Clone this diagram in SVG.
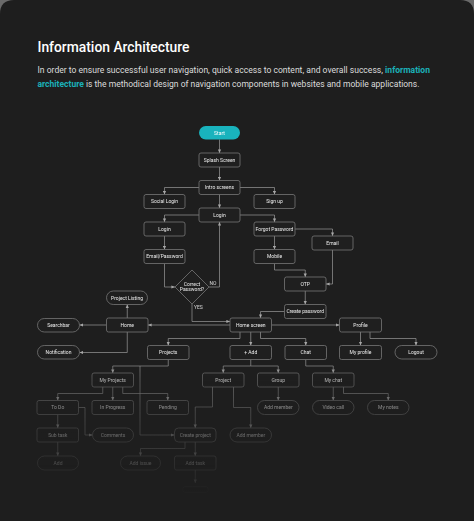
<svg xmlns="http://www.w3.org/2000/svg" width="474" height="521" viewBox="0 0 474 521">
<style>
.bx{fill:#1f1f1f;stroke:#767676;stroke-width:0.8}
.t{font-family:Roboto,"Liberation Sans",sans-serif;font-size:5px;fill:#ededed;text-anchor:middle}
.lb{font-family:Roboto,"Liberation Sans",sans-serif;font-size:5px;fill:#d8d8d8}
.c path{fill:none;stroke:#9a9a9a;stroke-width:0.7;marker-end:url(#ah)}
.c path.n{marker-end:none}
</style>
<defs>
<marker id="ah" markerUnits="userSpaceOnUse" markerWidth="4" markerHeight="4" refX="3.6" refY="2" orient="auto">
<path d="M0,0.4 L3.6,2 L0,3.6 z" fill="#a8a8a8"/>
</marker>
<linearGradient id="fade" gradientUnits="userSpaceOnUse" x1="0" y1="360" x2="0" y2="500">
<stop offset="0" stop-color="#fff"/>
<stop offset="0.143" stop-color="#b3b3b3"/>
<stop offset="0.336" stop-color="#808080"/>
<stop offset="0.536" stop-color="#5a5a5a"/>
<stop offset="0.736" stop-color="#383838"/>
<stop offset="0.929" stop-color="#1a1a1a"/>
<stop offset="1" stop-color="#111"/>
</linearGradient>
<mask id="m" maskUnits="userSpaceOnUse" x="0" y="0" width="474" height="521">
<rect x="0" y="0" width="474" height="521" fill="url(#fade)"/>
</mask>
</defs>
<rect x="0" y="0" width="474" height="521" fill="#6a6a6a"/>
<path d="M0,14 Q0,0 14,0 H460 Q474,0 474,14 V521 H0 Z" fill="#1e1e1e"/>
<text x="37.5" y="51.5" font-family="Roboto,'Liberation Sans',sans-serif" font-size="15.5" font-weight="500" fill="#ffffff" textLength="152" lengthAdjust="spacingAndGlyphs">Information Architecture</text>
<text x="37.5" y="73" font-family="Roboto,'Liberation Sans',sans-serif" font-size="8.4" fill="#dcdcdc" textLength="392.5" lengthAdjust="spacingAndGlyphs">In order to ensure successful user navigation, quick access to content, and overall success, <tspan fill="#1bb1b9" font-weight="700">information</tspan></text>
<text x="37.5" y="86.5" font-family="Roboto,'Liberation Sans',sans-serif" font-size="8.4" fill="#dcdcdc" textLength="382" lengthAdjust="spacingAndGlyphs"><tspan fill="#1bb1b9" font-weight="700">architecture</tspan> is the methodical design of navigation components in websites and mobile applications.</text>
<g mask="url(#m)">
<g id="connectors" class="c">
<path d="M219.5,139.5 V153"/>
<path d="M219.5,167 V180.5"/>
<path d="M199,187.5 H164.5 V194.5"/>
<path d="M240,187.5 H274.5 V194.5"/>
<path d="M219.5,194.5 V208"/>
<path d="M199,215 H164.5 V222"/>
<path d="M240,215 H274.5 V222"/>
<path d="M164.5,236 V249.5"/>
<path d="M164.5,263.5 V287 H175"/>
<path d="M209,287 H219.5 V222"/>
<path d="M295,229 H332.5 V236"/>
<path d="M274.5,236 V249.5"/>
<path d="M274.5,263.5 V270 H305.25 V277"/>
<path d="M332.5,250 V284 H326"/>
<path d="M305.25,291 V304.5"/>
<path d="M284.5,311.5 H260.5 V318"/>
<path d="M192,304 V321.5 H230"/>
<path d="M230,325 H148"/>
<path d="M127.25,318 V304.5"/>
<path d="M106.5,325 H79.5"/>
<path d="M127.25,332 V352.5 H79.5"/>
<path d="M240,332 V338.5 H168.25 V345.5"/>
<path d="M250.75,332 V345.5"/>
<path d="M260.5,332 V338.5 H305.75 V345.5"/>
<path d="M271.5,325 H339.5"/>
<path d="M360.5,332 V345.5"/>
<path d="M370,332 V338.5 H416 V345.5"/>
<path d="M168.25,359.5 V366 H112.75 V373"/>
<path d="M140,366 V435 H174.5"/>
<path d="M250.75,359.5 V366 H223.25 V373"/>
<path d="M250.75,366 H278.25 V373"/>
<path d="M305.75,359.5 V366 H333.25 V373"/>
<path d="M102.75,387 V393.5 H57.75 V400.5"/>
<path d="M112.75,387 V400.5"/>
<path d="M122.75,387 V393.5 H167.75 V400.5"/>
<path d="M212.5,387 V407 H195.25 V428"/>
<path d="M233.5,387 V407.5 H250.75 V428"/>
<path d="M278.25,387 V400.5"/>
<path d="M333.25,387 V400.5"/>
<path d="M343.5,387 V393.5 H388.25 V400.5"/>
<path d="M57.75,414.5 V428"/>
<path d="M78.5,407.5 H85 V435 H92.5"/>
<path d="M57.75,442 V456"/>
<path d="M185,442 V448.5 H140.5 V456"/>
<path d="M195.25,442 V456"/>
<path d="M195.25,470 V483"/>
</g>
<g id="start"><rect x="199" y="126" width="41" height="13.5" rx="6.75" fill="#19b3bd"/><text class="t" x="219.5" y="134.5" style="fill:#fff">Start</text></g>
<g id="splash"><rect class="bx" x="199" y="153" width="41" height="14" rx="2"/><text class="t" x="219.5" y="161.8">Splash Screen</text></g>
<g id="intro"><rect class="bx" x="199" y="180.5" width="41" height="14" rx="2"/><text class="t" x="219.5" y="189.3">Intro screens</text></g>
<g id="social"><rect class="bx" x="144" y="194.5" width="41" height="14" rx="2"/><text class="t" x="164.5" y="203.3">Social Login</text></g>
<g id="signup"><rect class="bx" x="254" y="194.5" width="41" height="14" rx="2"/><text class="t" x="274.5" y="203.3">Sign up</text></g>
<g id="login-main"><rect class="bx" x="199" y="208" width="41" height="14" rx="2"/><text class="t" x="219.5" y="216.8">Login</text></g>
<g id="login"><rect class="bx" x="144" y="222" width="41" height="14" rx="2"/><text class="t" x="164.5" y="230.8">Login</text></g>
<g id="forgot"><rect class="bx" x="254" y="222" width="41" height="14" rx="2"/><text class="t" x="274.5" y="230.8">Forgot Password</text></g>
<g id="email"><rect class="bx" x="312" y="236" width="41" height="14" rx="2"/><text class="t" x="332.5" y="244.8">Email</text></g>
<g id="emailpw"><rect class="bx" x="144" y="249.5" width="41" height="14" rx="2"/><text class="t" x="164.5" y="258.3">Email/Password</text></g>
<g id="mobile"><rect class="bx" x="254" y="249.5" width="41" height="14" rx="2"/><text class="t" x="274.5" y="258.3">Mobile</text></g>
<g id="decision"><path class="bx" d="M192,270 L209,287 L192,304 L175,287 Z"/><text class="t" x="192" y="286.4">Correct</text><text class="t" x="192" y="291">Password?</text></g>
<text class="lb" x="209.5" y="285.3">NO</text>
<text class="lb" x="194" y="309.3">YES</text>
<g id="otp"><rect class="bx" x="284.5" y="277" width="41.5" height="14" rx="2"/><text class="t" x="305.25" y="285.8">OTP</text></g>
<g id="createpw"><rect class="bx" x="284.5" y="304.5" width="41.5" height="14" rx="2"/><text class="t" x="305.25" y="313.3">Create password</text></g>
<g id="listing"><rect class="bx" x="106.5" y="291" width="41" height="13.5" rx="6.75"/><text class="t" x="127" y="299.6">Project Listing</text></g>
<g id="home"><rect class="bx" x="106.5" y="318" width="41.5" height="14" rx="2"/><text class="t" x="127.25" y="326.8">Home</text></g>
<g id="searchbar"><rect class="bx" x="37.5" y="318.5" width="42" height="13.5" rx="6.75"/><text class="t" x="58.5" y="327">Searchbar</text></g>
<g id="homescreen"><rect class="bx" x="230" y="318" width="41.5" height="14" rx="2"/><text class="t" x="250.75" y="326.8">Home screen</text></g>
<g id="profile"><rect class="bx" x="339.5" y="318" width="42" height="14" rx="2"/><text class="t" x="360.5" y="326.8">Profile</text></g>
<g id="notification"><rect class="bx" x="37.5" y="345.5" width="42" height="13.5" rx="6.75"/><text class="t" x="58.5" y="354">Notification</text></g>
<g id="projects"><rect class="bx" x="147.5" y="345.5" width="41.5" height="14" rx="2"/><text class="t" x="168.25" y="354.3">Projects</text></g>
<g id="add"><rect class="bx" x="230" y="345.5" width="41.5" height="14" rx="2"/><text class="t" x="250.75" y="354.3">+ Add</text></g>
<g id="chat"><rect class="bx" x="285" y="345.5" width="41.5" height="14" rx="2"/><text class="t" x="305.75" y="354.3">Chat</text></g>
<g id="myprofile"><rect class="bx" x="339.5" y="345.5" width="42" height="14" rx="2"/><text class="t" x="360.5" y="354.3">My profile</text></g>
<g id="logout"><rect class="bx" x="395" y="345.5" width="42" height="13.5" rx="6.75"/><text class="t" x="416" y="354">Logout</text></g>
<g id="myprojects"><rect class="bx" x="92" y="373" width="41.5" height="14" rx="2"/><text class="t" x="112.75" y="381.8">My Projects</text></g>
<g id="project"><rect class="bx" x="202.5" y="373" width="41.5" height="14" rx="2"/><text class="t" x="223.25" y="381.8">Project</text></g>
<g id="group"><rect class="bx" x="257.5" y="373" width="41.5" height="14" rx="2"/><text class="t" x="278.25" y="381.8">Group</text></g>
<g id="mychat"><rect class="bx" x="312.5" y="373" width="41.5" height="14" rx="2"/><text class="t" x="333.25" y="381.8">My chat</text></g>
<g id="todo"><rect class="bx" x="37" y="400.5" width="41.5" height="14" rx="2"/><text class="t" x="57.75" y="409.3">To Do</text></g>
<g id="inprogress"><rect class="bx" x="92" y="400.5" width="41.5" height="14" rx="2"/><text class="t" x="112.75" y="409.3">In Progress</text></g>
<g id="pending"><rect class="bx" x="147" y="400.5" width="41.5" height="14" rx="2"/><text class="t" x="167.75" y="409.3">Pending</text></g>
<g id="addmember-group"><rect class="bx" x="257.5" y="400.5" width="41.5" height="14" rx="7"/><text class="t" x="278.25" y="409.3">Add member</text></g>
<g id="videocall"><rect class="bx" x="312.5" y="400.5" width="41.5" height="14" rx="7"/><text class="t" x="333.25" y="409.3">Video call</text></g>
<g id="mynotes"><rect class="bx" x="367.5" y="400.5" width="41.5" height="14" rx="7"/><text class="t" x="388.25" y="409.3">My notes</text></g>
<g id="subtask"><rect class="bx" x="37" y="428" width="41.5" height="14" rx="2"/><text class="t" x="57.75" y="436.8">Sub task</text></g>
<g id="comments"><rect class="bx" x="92.5" y="428" width="41" height="14" rx="7"/><text class="t" x="113" y="436.8">Comments</text></g>
<g id="createproject"><rect class="bx" x="174.5" y="428" width="41.5" height="14" rx="4"/><text class="t" x="195.25" y="436.8">Create project</text></g>
<g id="addmember-project"><rect class="bx" x="230" y="428" width="41.5" height="14" rx="7"/><text class="t" x="250.75" y="436.8">Add member</text></g>
<g id="addsub"><rect class="bx" x="37.5" y="456" width="41" height="14" rx="7"/><text class="t" x="58" y="464.8">Add</text></g>
<g id="addissue"><rect class="bx" x="120.5" y="456" width="40" height="14" rx="7"/><text class="t" x="140.5" y="464.8">Add issue</text></g>
<g id="addtask"><rect class="bx" x="174.5" y="456" width="41.5" height="14" rx="2"/><text class="t" x="195.25" y="464.8">Add task</text></g>
<g id="faint"><rect class="bx" x="183" y="486.5" width="25" height="6" rx="2" style="stroke-opacity:0.4"/></g>
</g>
</svg>
